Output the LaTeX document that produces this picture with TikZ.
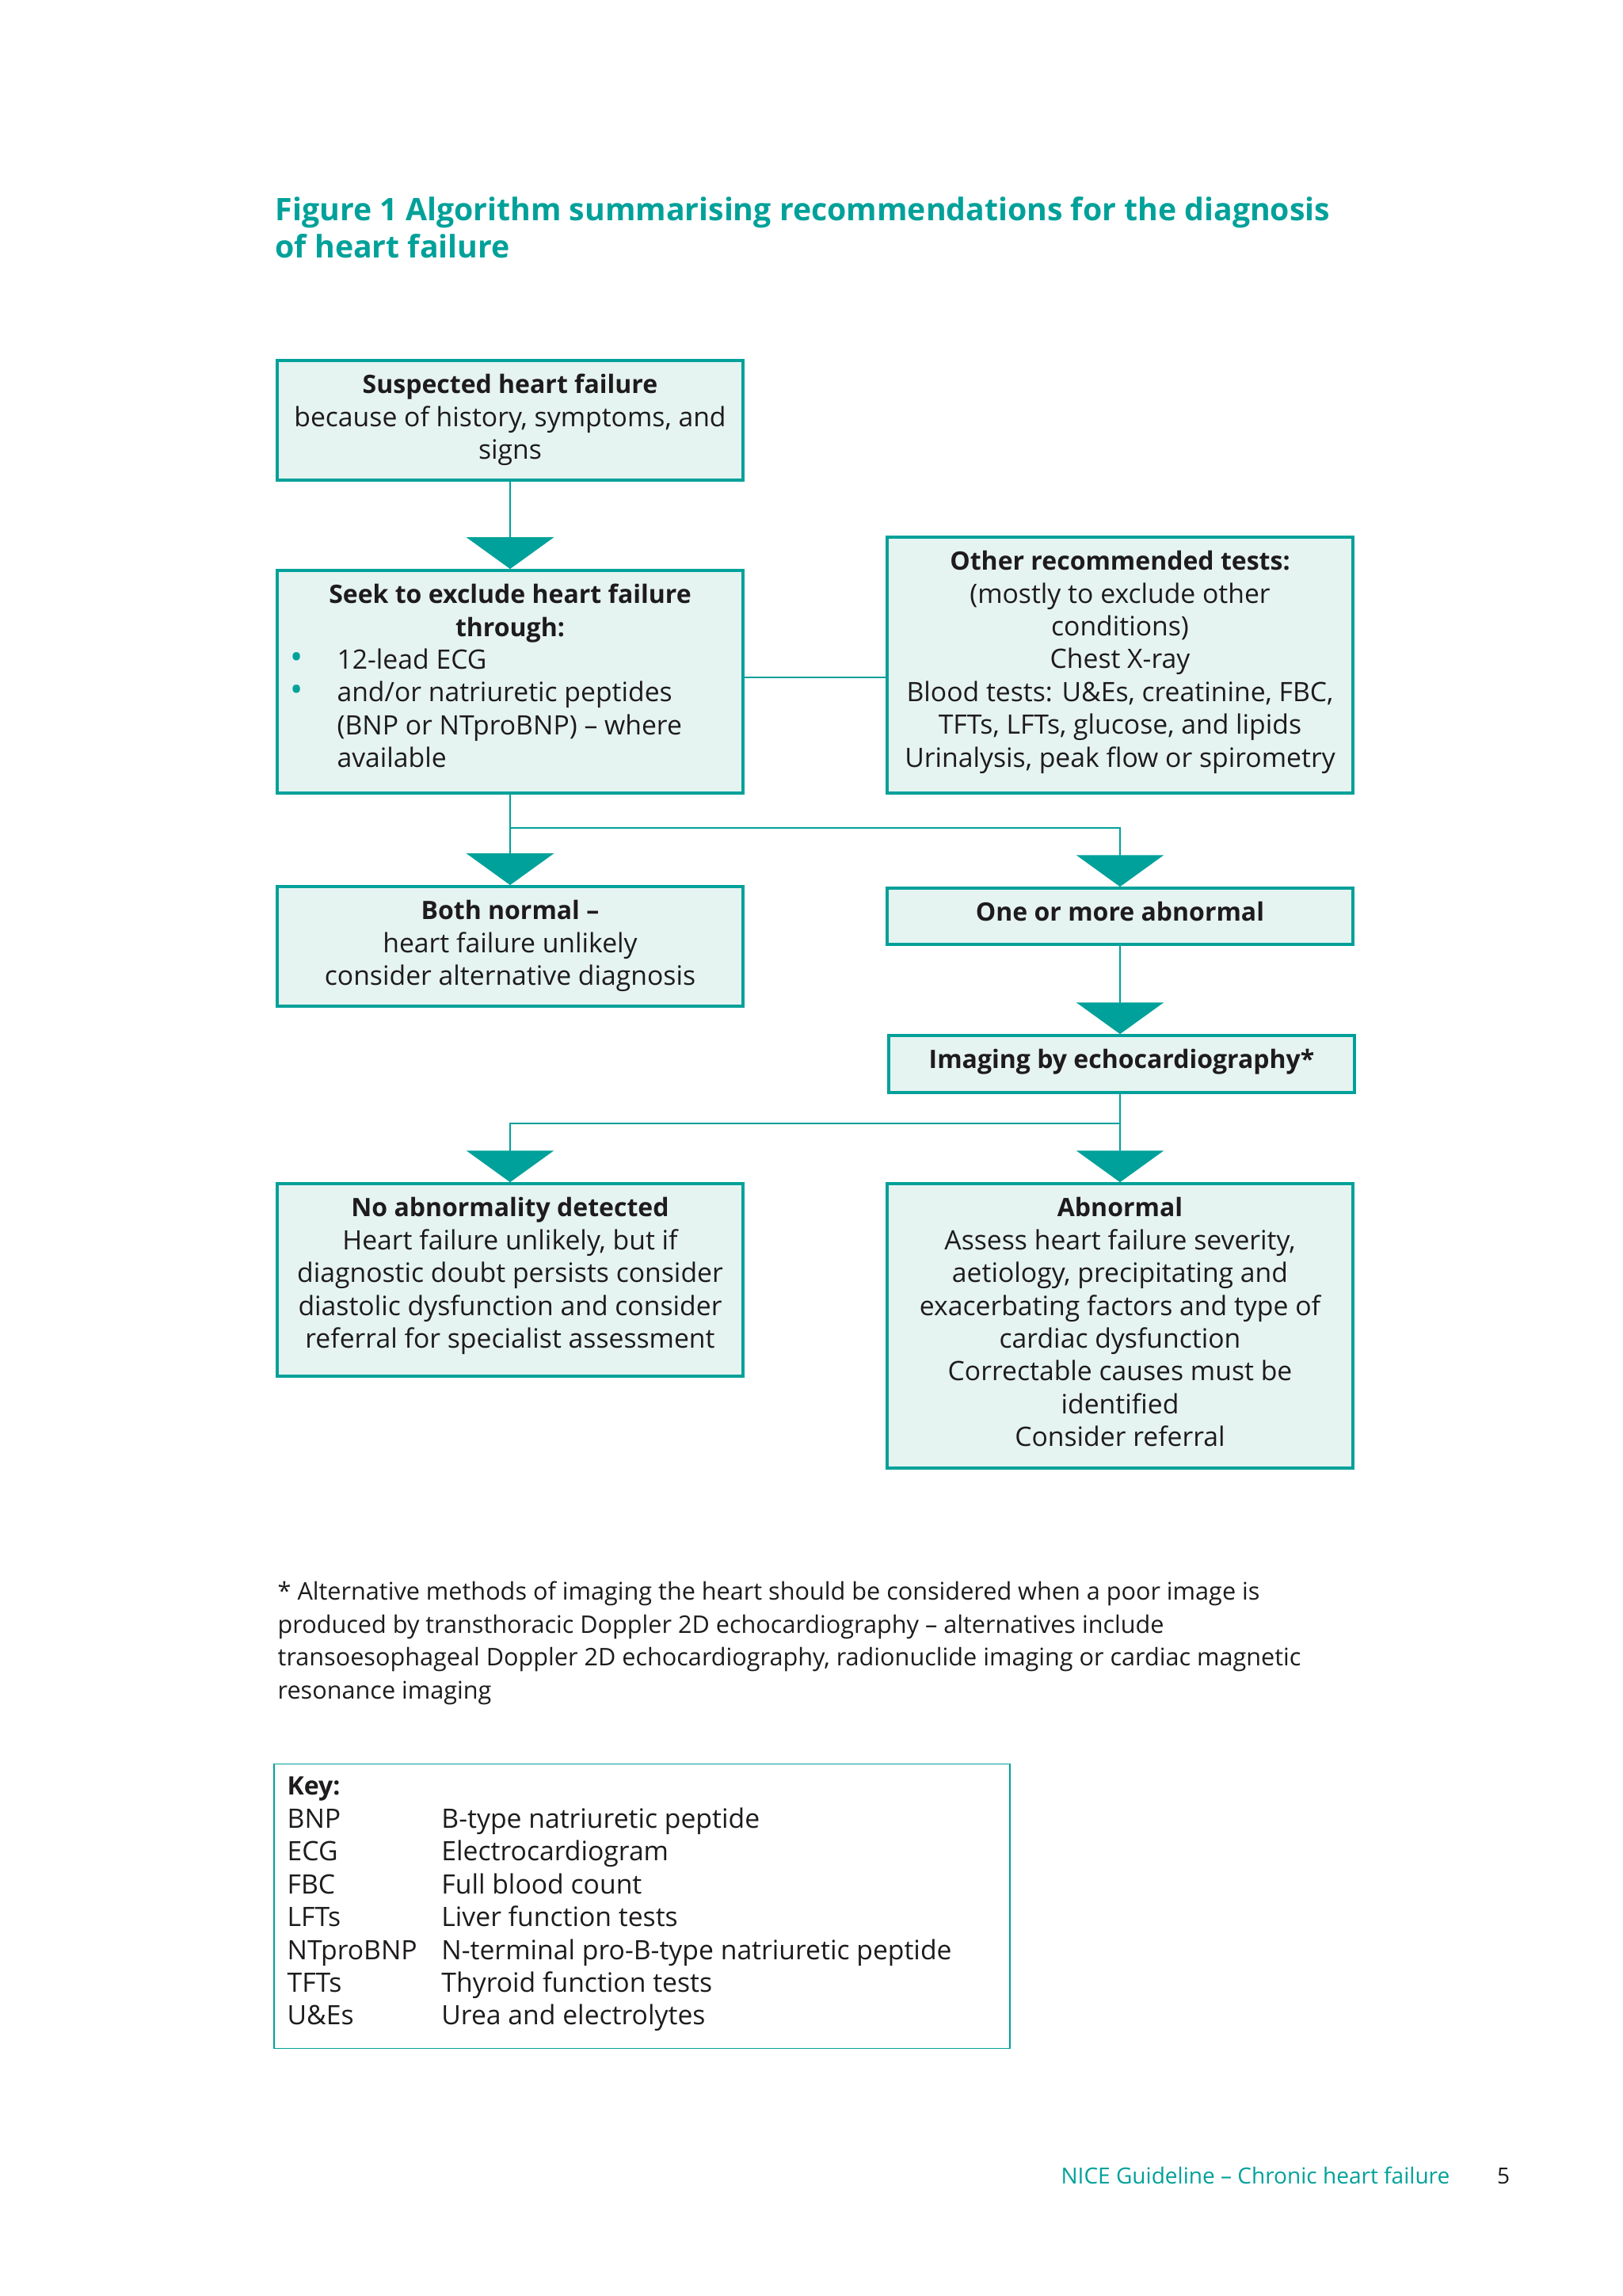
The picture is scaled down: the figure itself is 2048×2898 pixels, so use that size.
\documentclass[tikz,border=0pt]{standalone}
\usepackage{fontspec}
\setmainfont{Open Sans}
\usetikzlibrary{arrows.meta,calc}
\definecolor{tl}{HTML}{00A19A}
\definecolor{boxfill}{HTML}{E5F3F1}
\definecolor{ink}{HTML}{1E1B1C}
\newcommand\bodyfont{\fontsize{9.8pt}{12.05pt}\selectfont}
\newcommand\notefont{\fontsize{8.9pt}{12.05pt}\selectfont}
\newcommand\hd[1]{{\fontsize{9.3pt}{12.05pt}\selectfont\bfseries #1}}
\newcommand\blt{\noindent\llap{\textcolor{tl}{\fontsize{12.5pt}{12pt}\selectfont\textbullet}\hspace{12.5pt}}}
\begin{document}
\begin{tikzpicture}[x=0.290664pt,y=-0.290664pt,
  box/.style={draw=tl, fill=boxfill, line width=1.1pt, minimum width=171pt, inner sep=0pt},
  txt/.style={inner sep=0pt, align=center, font=\bodyfont, text=ink, anchor=north},
  conn/.style={draw=tl, line width=0.85pt},
  arr/.style={conn, -{Triangle[width=32pt,length=11.6pt]}}
]
\fill[white] (0,0) rectangle (2048,2898);
\useasboundingbox (0,0) rectangle (2048,2898);

% title
\node[anchor=north west, inner sep=0pt, align=left, text=tl,
  font=\fontsize{11.4pt}{13.7pt}\selectfont\bfseries] (title) at (347,245)
  {\strut Figure 1 Algorithm summarising recommendations for the diagnosis\\of heart failure};

% boxes
\node[box, minimum height=43.9pt]  (b1) at (644,530.5) {};
\node[box, minimum height=81.7pt]  (b2) at (644,860.5) {};
\node[box, minimum height=93.9pt]  (b3) at (1414,839.5) {};
\node[box, minimum height=43.9pt]  (b4) at (644,1194.5) {};
\node[box, minimum height=20.6pt]  (b5) at (1414,1156.5) {};
\node[box, minimum height=20.9pt]  (b6) at (1416,1343) {};
\node[box, minimum height=70.6pt]  (b7) at (644,1615.5) {};
\node[box, minimum height=104.3pt] (b8) at (1414,1673.5) {};

% texts
\node[txt] (t1) at ([yshift=-4pt]b1.north)
  {\strut\hd{Suspected heart failure}\\because of history, symptoms, and\\signs};
\node[txt] (t2) at ([yshift=-4pt]b2.north)
  {\begin{minipage}[t]{169pt}\centering\strut\hd{Seek to exclude heart failure}\\\hd{through:}\par
   \raggedright\leftskip=21pt
   \blt 12-lead ECG\par
   \blt and/or natriuretic peptides\\(BNP or NTproBNP) – where\\available\par
   \end{minipage}};
\node[txt] (t3) at ([yshift=-4pt]b3.north)
  {\strut\hd{Other recommended tests:}\\(mostly to exclude other\\conditions)\\Chest X-ray\\Blood tests: U\&Es, creatinine, FBC,\\TFTs, LFTs, glucose, and lipids\\Urinalysis, peak flow or spirometry};
\node[txt] (t4) at ([yshift=-4pt]b4.north)
  {\strut\hd{Both normal –}\\heart failure unlikely\\consider alternative diagnosis};
\node[txt] (t5) at ([yshift=-4pt]b5.north)
  {\strut\hd{One or more abnormal}};
\node[txt] (t6) at ([yshift=-4pt]b6.north)
  {\strut\hd{Imaging by echocardiography*}};
\node[txt] (t7) at ([yshift=-4pt]b7.north)
  {\strut\hd{No abnormality detected}\\Heart failure unlikely, but if\\diagnostic doubt persists consider\\diastolic dysfunction and consider\\referral for specialist assessment};
\node[txt] (t8) at ([yshift=-4pt]b8.north)
  {\strut\hd{Abnormal}\\Assess heart failure severity,\\aetiology, precipitating and\\exacerbating factors and type of\\cardiac dysfunction\\Correctable causes must be\\identified\\Consider referral};

% connectors
\coordinate (m23) at (b2.east |- 0,855);
\draw[conn] (m23) -- (m23 -| b3.west);
\draw[arr] (b1.south) -- (b2.north);
\coordinate (j1) at (b2.south |- 0,1045);
\draw[arr] (b2.south) -- (b4.north);
\draw[arr] (j1) -| (b5.north);
\draw[arr] (b5.south) -- (b5.south |- b6.north);
\coordinate (j2) at (b5.south |- 0,1418);
\draw[conn] (b6.south -| b5.south) -- (j2);
\draw[arr] (j2) -- (b8.north);
\draw[arr] (j2) -| (b7.north);

% footnote
\node[anchor=north west, inner sep=0pt, align=left, font=\notefont, text=ink] (fn) at (350,1990)
  {\strut* Alternative methods of imaging the heart should be considered when a poor image is\\
   produced by transthoracic Doppler 2D echocardiography – alternatives include\\
   transoesophageal Doppler 2D echocardiography, radionuclide imaging or cardiac magnetic\\
   resonance imaging};

% key
\node[draw=tl, line width=0.5pt, minimum width=270pt, minimum height=104.3pt, inner sep=0pt] (key) at (810.5,2406) {};
\node[anchor=north west, inner sep=0pt, font=\bodyfont, text=ink] (keyt) at (362,2236)
  {\begin{tabular}[t]{@{}p{56.6pt}@{}l@{}}
   \hd{Key:} & \\
   BNP & B-type natriuretic peptide\\
   ECG & Electrocardiogram\\
   FBC & Full blood count\\
   LFTs & Liver function tests\\
   NTproBNP & N-terminal pro-B-type natriuretic peptide\\
   TFTs & Thyroid function tests\\
   U\&Es & Urea and electrolytes
   \end{tabular}};

% footer
\node[anchor=base east, inner sep=0pt, font=\fontsize{8.15pt}{10pt}\selectfont, text=tl] (foot) at (1831,2756)
  {NICE Guideline – Chronic heart failure};
\node[anchor=base, inner sep=0pt, font=\fontsize{8.15pt}{10pt}\selectfont, text=ink] (pg) at (1898,2756) {5};
\end{tikzpicture}
\end{document}
